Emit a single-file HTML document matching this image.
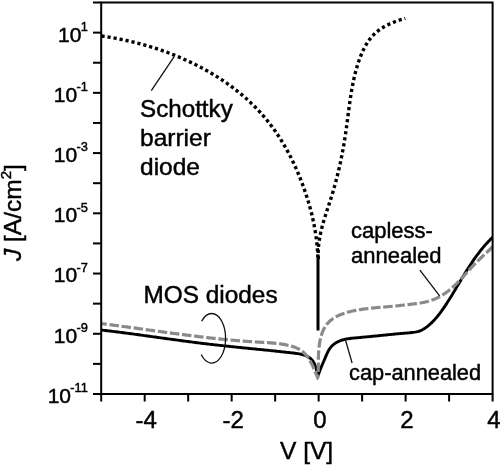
<!DOCTYPE html>
<html><head><meta charset="utf-8"><style>
html,body{margin:0;padding:0;background:#fff;}
svg{display:block;}
</style></head><body>
<svg width="500" height="466" viewBox="0 0 500 466">
<rect x="0" y="0" width="500" height="466" fill="#fff"/>
<defs><clipPath id="c"><rect x="101.2" y="2.5" width="391.4" height="391.5"/></clipPath></defs>
<g clip-path="url(#c)" fill="none">
<path d="M101.02,330.01 L102.52,330.18 L104.01,330.35 L105.51,330.52 L107.00,330.70 L108.50,330.88 L109.99,331.06 L111.49,331.24 L112.99,331.42 L114.48,331.60 L115.98,331.79 L117.48,331.98 L118.98,332.17 L120.48,332.36 L121.97,332.55 L123.47,332.75 L124.97,332.94 L126.47,333.14 L127.97,333.33 L129.47,333.53 L130.97,333.73 L132.47,333.93 L133.97,334.13 L135.47,334.34 L136.97,334.54 L138.47,334.74 L139.98,334.95 L141.48,335.16 L142.98,335.36 L144.48,335.57 L145.98,335.78 L147.48,335.98 L148.98,336.19 L150.49,336.40 L151.99,336.61 L153.49,336.82 L154.99,337.03 L156.49,337.24 L158.00,337.44 L159.50,337.65 L161.00,337.86 L162.50,338.07 L164.00,338.28 L165.51,338.49 L167.01,338.70 L168.51,338.90 L170.01,339.11 L171.51,339.32 L173.01,339.52 L174.52,339.73 L176.02,339.93 L177.52,340.14 L179.02,340.34 L180.52,340.54 L182.02,340.74 L183.52,340.95 L185.02,341.14 L186.52,341.34 L188.02,341.54 L189.52,341.74 L191.02,341.93 L192.52,342.12 L194.02,342.32 L195.52,342.51 L197.02,342.70 L198.52,342.88 L200.02,343.07 L201.52,343.26 L203.01,343.44 L204.51,343.62 L206.01,343.80 L207.51,343.97 L209.00,344.15 L210.50,344.32 L211.99,344.50 L213.49,344.67 L214.99,344.84 L216.48,345.00 L217.98,345.17 L219.47,345.33 L220.97,345.50 L222.47,345.66 L223.96,345.82 L225.46,345.98 L226.95,346.14 L228.45,346.30 L229.94,346.46 L231.44,346.61 L232.94,346.77 L234.43,346.92 L235.93,347.08 L237.43,347.23 L238.93,347.38 L240.42,347.54 L241.92,347.69 L243.42,347.84 L244.92,347.99 L246.42,348.14 L247.92,348.29 L249.42,348.44 L250.92,348.59 L252.43,348.75 L253.93,348.90 L255.43,349.05 L256.94,349.20 L258.44,349.35 L259.95,349.50 L261.45,349.65 L262.96,349.81 L264.47,349.96 L265.98,350.11 L267.49,350.27 L269.00,350.42 L270.51,350.58 L272.02,350.74 L273.54,350.89 L275.05,351.05 L276.57,351.21 L278.09,351.37 L279.61,351.53 L281.12,351.69 L282.65,351.86 L284.17,352.02 L285.69,352.19 L287.22,352.36 L288.74,352.53 L290.27,352.70 L291.80,352.87 L293.33,353.05 L294.85,353.23 L296.37,353.44 L297.88,353.67 L299.37,353.93 L300.84,354.24 L302.29,354.59 L303.71,355.00 L305.10,355.48 L306.45,356.03 L307.75,356.65 L308.99,357.37 L310.16,358.19 L311.24,359.12 L312.21,360.17 L313.07,361.34 L313.83,362.62 L314.50,363.99 L315.08,365.43 L315.60,366.93 L316.06,368.45 L316.47,369.98 L316.85,371.51 L317.21,373.01 L317.57,374.47 L317.92,375.86 L318.00,375.81 L318.50,374.35 L319.01,372.91 L319.54,371.48 L320.08,370.08 L320.63,368.68 L321.19,367.29 L321.76,365.91 L322.34,364.54 L322.93,363.16 L323.52,361.78 L324.12,360.40 L324.71,359.01 L325.31,357.60 L325.91,356.18 L326.52,354.76 L327.14,353.35 L327.81,351.95 L328.52,350.59 L329.29,349.29 L330.13,348.04 L331.07,346.88 L332.09,345.79 L333.19,344.79 L334.36,343.87 L335.60,343.03 L336.89,342.27 L338.23,341.59 L339.61,340.98 L341.01,340.44 L342.44,339.98 L343.89,339.58 L345.35,339.23 L346.83,338.94 L348.33,338.69 L349.83,338.48 L351.34,338.29 L352.86,338.13 L354.38,337.99 L355.91,337.85 L357.43,337.72 L358.95,337.58 L360.46,337.45 L361.98,337.31 L363.49,337.17 L365.00,337.02 L366.51,336.88 L368.02,336.73 L369.52,336.59 L371.03,336.44 L372.53,336.29 L374.03,336.14 L375.53,335.99 L377.03,335.84 L378.53,335.69 L380.03,335.54 L381.53,335.39 L383.02,335.24 L384.52,335.09 L386.02,334.94 L387.52,334.79 L389.02,334.64 L390.52,334.50 L392.02,334.35 L393.53,334.21 L395.03,334.06 L396.53,333.92 L398.04,333.78 L399.55,333.65 L401.06,333.51 L402.57,333.38 L404.09,333.25 L405.61,333.11 L407.12,332.98 L408.64,332.84 L410.16,332.69 L411.69,332.53 L413.21,332.36 L414.73,332.17 L416.24,331.93 L417.72,331.63 L419.16,331.23 L420.56,330.70 L421.90,330.07 L423.20,329.35 L424.47,328.55 L425.70,327.70 L426.90,326.81 L428.08,325.89 L429.23,324.92 L430.35,323.93 L431.45,322.90 L432.52,321.85 L433.57,320.76 L434.60,319.66 L435.61,318.52 L436.60,317.37 L437.57,316.20 L438.52,315.01 L439.46,313.81 L440.38,312.59 L441.29,311.36 L442.18,310.12 L443.05,308.87 L443.92,307.62 L444.78,306.36 L445.62,305.10 L446.46,303.83 L447.28,302.56 L448.10,301.29 L448.91,300.01 L449.71,298.73 L450.51,297.45 L451.30,296.16 L452.08,294.88 L452.87,293.59 L453.64,292.30 L454.42,291.01 L455.19,289.71 L455.96,288.42 L456.72,287.12 L457.49,285.83 L458.26,284.53 L459.03,283.23 L459.79,281.93 L460.57,280.63 L461.34,279.34 L462.12,278.04 L462.90,276.74 L463.68,275.45 L464.47,274.16 L465.26,272.87 L466.06,271.58 L466.86,270.30 L467.66,269.01 L468.48,267.74 L469.30,266.46 L470.12,265.19 L470.96,263.93 L471.80,262.67 L472.64,261.41 L473.50,260.17 L474.37,258.93 L475.24,257.69 L476.12,256.46 L477.01,255.24 L477.92,254.03 L478.83,252.82 L479.75,251.63 L480.69,250.44 L481.63,249.26 L482.59,248.10 L483.56,246.94 L484.54,245.79 L485.54,244.65 L486.55,243.53 L487.57,242.41 L488.61,241.31 L489.66,240.22 L490.72,239.14 L491.80,238.08 L492.90,237.03 L494.01,235.99" stroke="#000" stroke-width="2.9" stroke-linejoin="round"/>
<path d="M100.93,323.52 L102.44,323.72 L103.95,323.91 L105.46,324.10 L106.98,324.30 L108.49,324.49 L110.00,324.69 L111.51,324.89 L113.01,325.09 L114.52,325.29 L116.03,325.49 L117.54,325.69 L119.04,325.89 L120.55,326.09 L122.06,326.30 L123.56,326.50 L125.07,326.71 L126.57,326.91 L128.07,327.12 L129.58,327.32 L131.08,327.53 L132.58,327.74 L134.09,327.94 L135.59,328.15 L137.09,328.36 L138.59,328.57 L140.09,328.77 L141.59,328.98 L143.09,329.19 L144.59,329.40 L146.09,329.61 L147.59,329.81 L149.09,330.02 L150.59,330.23 L152.09,330.44 L153.59,330.65 L155.09,330.85 L156.59,331.06 L158.09,331.27 L159.59,331.47 L161.08,331.68 L162.58,331.89 L164.08,332.09 L165.58,332.29 L167.08,332.50 L168.58,332.70 L170.08,332.90 L171.57,333.11 L173.07,333.31 L174.57,333.51 L176.07,333.71 L177.57,333.91 L179.07,334.10 L180.57,334.30 L182.07,334.50 L183.56,334.69 L185.06,334.88 L186.56,335.08 L188.06,335.27 L189.56,335.46 L191.06,335.65 L192.56,335.83 L194.07,336.02 L195.57,336.21 L197.07,336.39 L198.57,336.57 L200.07,336.75 L201.57,336.93 L203.08,337.11 L204.58,337.28 L206.08,337.46 L207.59,337.63 L209.09,337.80 L210.60,337.97 L212.10,338.14 L213.61,338.30 L215.11,338.46 L216.62,338.63 L218.13,338.79 L219.64,338.94 L221.15,339.10 L222.65,339.25 L224.16,339.40 L225.67,339.55 L227.19,339.70 L228.70,339.84 L230.21,339.98 L231.72,340.12 L233.24,340.26 L234.75,340.39 L236.26,340.53 L237.78,340.66 L239.30,340.78 L240.81,340.91 L242.33,341.03 L243.85,341.15 L245.37,341.26 L246.89,341.38 L248.41,341.49 L249.93,341.60 L251.46,341.70 L252.98,341.80 L254.51,341.90 L256.03,342.00 L257.56,342.09 L259.09,342.18 L260.62,342.27 L262.14,342.35 L263.67,342.44 L265.20,342.52 L266.73,342.62 L268.26,342.71 L269.78,342.81 L271.30,342.92 L272.82,343.05 L274.34,343.18 L275.85,343.33 L277.36,343.49 L278.86,343.67 L280.36,343.87 L281.85,344.09 L283.34,344.34 L284.82,344.60 L286.29,344.90 L287.75,345.22 L289.21,345.57 L290.66,345.95 L292.09,346.37 L293.50,346.83 L294.90,347.33 L296.26,347.88 L297.60,348.49 L298.89,349.15 L300.15,349.88 L301.36,350.68 L302.52,351.55 L303.62,352.50 L304.67,353.51 L305.67,354.59 L306.63,355.74 L307.54,356.93 L308.41,358.17 L309.24,359.46 L310.03,360.78 L310.79,362.14 L311.51,363.52 L312.21,364.92 L312.89,366.34 L313.53,367.77 L314.16,369.20 L314.77,370.63 L315.37,372.06 L315.95,373.47 L316.52,374.87 L317.08,376.24 L317.64,377.58 L317.77,377.44 L317.90,375.95 L318.00,374.46 L318.09,372.97 L318.15,371.47 L318.20,369.98 L318.24,368.48 L318.28,366.98 L318.30,365.49 L318.32,363.99 L318.34,362.48 L318.36,360.98 L318.38,359.48 L318.41,357.97 L318.45,356.46 L318.50,354.95 L318.57,353.44 L318.65,351.92 L318.75,350.40 L318.87,348.88 L319.02,347.35 L319.19,345.83 L319.40,344.29 L319.64,342.76 L319.91,341.22 L320.22,339.69 L320.56,338.17 L320.95,336.66 L321.39,335.17 L321.87,333.70 L322.39,332.26 L322.97,330.85 L323.60,329.48 L324.28,328.15 L325.02,326.87 L325.82,325.63 L326.68,324.46 L327.60,323.34 L328.59,322.29 L329.62,321.29 L330.71,320.34 L331.85,319.44 L333.04,318.60 L334.27,317.80 L335.54,317.05 L336.85,316.35 L338.19,315.68 L339.56,315.06 L340.96,314.48 L342.39,313.93 L343.83,313.42 L345.30,312.94 L346.78,312.49 L348.28,312.08 L349.78,311.69 L351.29,311.32 L352.80,310.98 L354.31,310.66 L355.82,310.36 L357.33,310.08 L358.84,309.81 L360.34,309.57 L361.84,309.33 L363.34,309.12 L364.84,308.91 L366.34,308.72 L367.83,308.54 L369.33,308.37 L370.82,308.21 L372.32,308.06 L373.81,307.92 L375.30,307.78 L376.80,307.64 L378.29,307.51 L379.78,307.39 L381.28,307.26 L382.77,307.13 L384.27,307.01 L385.76,306.88 L387.26,306.75 L388.76,306.62 L390.26,306.48 L391.76,306.34 L393.26,306.19 L394.77,306.04 L396.27,305.89 L397.78,305.73 L399.28,305.57 L400.79,305.41 L402.30,305.24 L403.81,305.07 L405.32,304.90 L406.83,304.73 L408.34,304.55 L409.86,304.37 L411.37,304.19 L412.88,304.01 L414.40,303.82 L415.91,303.63 L417.42,303.42 L418.93,303.21 L420.43,302.98 L421.92,302.72 L423.41,302.45 L424.89,302.15 L426.36,301.81 L427.82,301.45 L429.26,301.04 L430.69,300.60 L432.11,300.11 L433.51,299.58 L434.90,299.01 L436.26,298.40 L437.62,297.74 L438.95,297.06 L440.27,296.33 L441.57,295.57 L442.85,294.78 L444.12,293.96 L445.36,293.11 L446.59,292.23 L447.80,291.33 L448.99,290.40 L450.16,289.45 L451.31,288.47 L452.44,287.48 L453.56,286.46 L454.67,285.43 L455.76,284.38 L456.84,283.32 L457.90,282.24 L458.96,281.15 L460.01,280.06 L461.05,278.95 L462.08,277.83 L463.11,276.71 L464.13,275.59 L465.16,274.46 L466.17,273.33 L467.19,272.20 L468.21,271.07 L469.23,269.95 L470.25,268.82 L471.28,267.71 L472.31,266.60 L473.35,265.50 L474.39,264.40 L475.44,263.32 L476.50,262.25 L477.57,261.18 L478.64,260.12 L479.71,259.07 L480.79,258.02 L481.87,256.98 L482.96,255.94 L484.06,254.90 L485.15,253.87 L486.25,252.84 L487.35,251.80 L488.46,250.77 L489.56,249.74 L490.67,248.70 L491.78,247.67 L492.88,246.63 L493.99,245.58" stroke="#8a8a8a" stroke-width="3.2" stroke-dasharray="9.5 2.7" stroke-dashoffset="3.6"/>
<path d="M101.48,35.99 L102.96,36.21 L104.43,36.42 L105.90,36.65 L107.38,36.88 L108.85,37.12 L110.33,37.37 L111.80,37.62 L113.28,37.88 L114.75,38.15 L116.23,38.42 L117.71,38.70 L119.18,38.99 L120.66,39.29 L122.14,39.59 L123.61,39.90 L125.09,40.21 L126.56,40.53 L128.03,40.86 L129.51,41.20 L130.98,41.54 L132.45,41.89 L133.92,42.25 L135.39,42.62 L136.86,42.99 L138.33,43.37 L139.80,43.75 L141.27,44.15 L142.73,44.55 L144.19,44.96 L145.65,45.37 L147.11,45.79 L148.57,46.22 L150.03,46.66 L151.49,47.10 L152.94,47.55 L154.39,48.01 L155.84,48.48 L157.29,48.95 L158.73,49.43 L160.17,49.92 L161.61,50.41 L163.05,50.91 L164.49,51.42 L165.92,51.94 L167.35,52.46 L168.78,52.99 L170.20,53.53 L171.62,54.08 L173.04,54.63 L174.46,55.19 L175.87,55.76 L177.28,56.34 L178.69,56.92 L180.09,57.51 L181.49,58.11 L182.88,58.71 L184.28,59.33 L185.66,59.95 L187.05,60.58 L188.43,61.21 L189.81,61.85 L191.18,62.50 L192.55,63.16 L193.91,63.83 L195.27,64.50 L196.63,65.18 L197.98,65.87 L199.33,66.57 L200.67,67.27 L202.01,67.98 L203.34,68.70 L204.67,69.43 L206.00,70.16 L207.32,70.91 L208.63,71.66 L209.94,72.41 L211.24,73.18 L212.54,73.95 L213.83,74.73 L215.12,75.52 L216.40,76.32 L217.68,77.12 L218.95,77.94 L220.22,78.76 L221.48,79.59 L222.73,80.42 L223.98,81.26 L225.22,82.12 L226.45,82.98 L227.68,83.84 L228.91,84.72 L230.12,85.60 L231.33,86.49 L232.54,87.39 L233.73,88.30 L234.92,89.21 L236.11,90.14 L237.28,91.07 L238.45,92.01 L239.62,92.95 L240.77,93.91 L241.92,94.87 L243.06,95.84 L244.20,96.82 L245.32,97.81 L246.44,98.80 L247.55,99.81 L248.66,100.82 L249.75,101.84 L250.84,102.87 L251.92,103.90 L253.00,104.95 L254.06,106.00 L255.12,107.06 L256.17,108.13 L257.21,109.21 L258.24,110.29 L259.26,111.39 L260.28,112.49 L261.28,113.60 L262.28,114.72 L263.27,115.84 L264.25,116.98 L265.22,118.12 L266.19,119.27 L267.14,120.43 L268.08,121.60 L269.02,122.78 L269.95,123.96 L270.86,125.16 L271.77,126.36 L272.67,127.57 L273.56,128.79 L274.43,130.01 L275.30,131.25 L276.17,132.49 L277.02,133.74 L277.86,134.99 L278.69,136.26 L279.52,137.53 L280.33,138.81 L281.14,140.09 L281.93,141.38 L282.72,142.68 L283.50,143.98 L284.27,145.29 L285.03,146.61 L285.78,147.93 L286.53,149.26 L287.26,150.59 L287.99,151.93 L288.71,153.28 L289.42,154.63 L290.12,155.98 L290.81,157.34 L291.49,158.71 L292.16,160.08 L292.83,161.45 L293.49,162.83 L294.14,164.21 L294.78,165.60 L295.41,166.99 L296.03,168.39 L296.65,169.78 L297.26,171.19 L297.86,172.59 L298.45,174.00 L299.03,175.41 L299.61,176.83 L300.17,178.24 L300.73,179.66 L301.28,181.09 L301.83,182.51 L302.36,183.94 L302.89,185.37 L303.41,186.80 L303.92,188.23 L304.42,189.66 L304.92,191.10 L305.41,192.54 L305.89,193.98 L306.36,195.42 L306.82,196.86 L307.28,198.30 L307.73,199.75 L308.17,201.19 L308.60,202.64 L309.02,204.09 L309.44,205.54 L309.84,206.99 L310.24,208.45 L310.63,209.90 L311.01,211.36 L311.38,212.82 L311.74,214.28 L312.09,215.74 L312.43,217.20 L312.77,218.67 L313.09,220.14 L313.41,221.61 L313.71,223.08 L314.01,224.55 L314.29,226.02 L314.57,227.50 L314.83,228.97 L315.09,230.45 L315.33,231.93 L315.57,233.42 L315.79,234.90 L316.01,236.39 L316.21,237.87 L316.41,239.36 L316.59,240.86 L316.76,242.35 L316.92,243.84 L317.08,245.34 L317.21,246.84 L317.34,248.34 L317.46,249.84 L317.57,251.35 L317.66,252.85 L317.75,254.36 L317.82,255.87 L317.88,257.38 L317.93,258.90" stroke="#000" stroke-width="3.4" stroke-dasharray="3.2 2.9"/>
<path d="M318.31,259.05 L318.23,257.50 L318.18,255.97 L318.16,254.44 L318.17,252.91 L318.20,251.39 L318.27,249.87 L318.36,248.36 L318.47,246.86 L318.61,245.35 L318.78,243.86 L318.96,242.36 L319.17,240.87 L319.40,239.39 L319.65,237.91 L319.93,236.43 L320.21,234.95 L320.52,233.48 L320.84,232.01 L321.18,230.55 L321.54,229.09 L321.90,227.63 L322.28,226.17 L322.68,224.71 L323.08,223.26 L323.50,221.81 L323.92,220.36 L324.36,218.91 L324.80,217.46 L325.25,216.02 L325.70,214.57 L326.16,213.13 L326.62,211.69 L327.09,210.24 L327.56,208.80 L328.03,207.36 L328.50,205.92 L328.97,204.48 L329.44,203.04 L329.91,201.59 L330.38,200.15 L330.84,198.71 L331.29,197.27 L331.75,195.82 L332.19,194.38 L332.63,192.93 L333.06,191.48 L333.49,190.03 L333.91,188.58 L334.32,187.13 L334.73,185.68 L335.13,184.22 L335.52,182.77 L335.91,181.31 L336.29,179.85 L336.67,178.39 L337.04,176.93 L337.41,175.47 L337.77,174.01 L338.12,172.55 L338.47,171.08 L338.81,169.62 L339.15,168.15 L339.48,166.68 L339.81,165.21 L340.13,163.74 L340.45,162.27 L340.76,160.79 L341.06,159.32 L341.36,157.84 L341.66,156.37 L341.95,154.89 L342.23,153.41 L342.51,151.93 L342.79,150.45 L343.06,148.96 L343.33,147.48 L343.59,145.99 L343.84,144.51 L344.10,143.02 L344.34,141.53 L344.59,140.04 L344.83,138.55 L345.06,137.06 L345.29,135.56 L345.52,134.07 L345.74,132.57 L345.95,131.07 L346.17,129.57 L346.38,128.07 L346.58,126.57 L346.79,125.07 L346.99,123.57 L347.18,122.06 L347.38,120.56 L347.58,119.05 L347.77,117.55 L347.97,116.04 L348.16,114.54 L348.36,113.03 L348.55,111.53 L348.75,110.02 L348.95,108.52 L349.15,107.01 L349.35,105.51 L349.56,104.00 L349.77,102.50 L349.98,101.00 L350.20,99.50 L350.42,98.00 L350.65,96.50 L350.89,95.00 L351.13,93.51 L351.37,92.01 L351.62,90.52 L351.89,89.03 L352.15,87.54 L352.43,86.05 L352.71,84.57 L353.01,83.09 L353.31,81.61 L353.62,80.13 L353.95,78.65 L354.28,77.18 L354.62,75.71 L354.98,74.24 L355.35,72.78 L355.73,71.32 L356.12,69.86 L356.53,68.40 L356.95,66.95 L357.38,65.51 L357.83,64.06 L358.29,62.62 L358.77,61.19 L359.27,59.76 L359.78,58.33 L360.31,56.92 L360.86,55.51 L361.43,54.12 L362.03,52.73 L362.64,51.36 L363.28,50.01 L363.94,48.67 L364.63,47.35 L365.34,46.04 L366.08,44.76 L366.85,43.49 L367.65,42.25 L368.48,41.03 L369.34,39.84 L370.23,38.67 L371.15,37.53 L372.11,36.42 L373.10,35.33 L374.13,34.28 L375.20,33.26 L376.30,32.27 L377.44,31.32 L378.62,30.40 L379.83,29.52 L381.07,28.67 L382.35,27.84 L383.65,27.05 L384.98,26.29 L386.33,25.56 L387.71,24.86 L389.10,24.18 L390.52,23.54 L391.95,22.91 L393.39,22.32 L394.85,21.75 L396.32,21.21 L397.80,20.68 L399.29,20.19 L400.78,19.71 L402.27,19.26 L403.77,18.83 L405.26,18.41" stroke="#000" stroke-width="3.4" stroke-dasharray="3.2 2.9"/>
<line x1="318" y1="259" x2="318" y2="330.6" stroke="#000" stroke-width="3"/>
</g>
<rect x="101.2" y="2.5" width="391.40000000000003" height="391.5" fill="none" stroke="#000" stroke-width="2"/>
<line x1="93" y1="2.50" x2="101.2" y2="2.50" stroke="#000" stroke-width="2"/>
<line x1="93" y1="32.62" x2="101.2" y2="32.62" stroke="#000" stroke-width="2"/>
<line x1="93" y1="62.73" x2="101.2" y2="62.73" stroke="#000" stroke-width="2"/>
<line x1="93" y1="92.85" x2="101.2" y2="92.85" stroke="#000" stroke-width="2"/>
<line x1="93" y1="122.96" x2="101.2" y2="122.96" stroke="#000" stroke-width="2"/>
<line x1="93" y1="153.08" x2="101.2" y2="153.08" stroke="#000" stroke-width="2"/>
<line x1="93" y1="183.19" x2="101.2" y2="183.19" stroke="#000" stroke-width="2"/>
<line x1="93" y1="213.31" x2="101.2" y2="213.31" stroke="#000" stroke-width="2"/>
<line x1="93" y1="243.42" x2="101.2" y2="243.42" stroke="#000" stroke-width="2"/>
<line x1="93" y1="273.54" x2="101.2" y2="273.54" stroke="#000" stroke-width="2"/>
<line x1="93" y1="303.65" x2="101.2" y2="303.65" stroke="#000" stroke-width="2"/>
<line x1="93" y1="333.77" x2="101.2" y2="333.77" stroke="#000" stroke-width="2"/>
<line x1="93" y1="363.88" x2="101.2" y2="363.88" stroke="#000" stroke-width="2"/>
<line x1="93" y1="394.00" x2="101.2" y2="394.00" stroke="#000" stroke-width="2"/>
<line x1="101.20" y1="394.0" x2="101.20" y2="401.5" stroke="#000" stroke-width="2"/>
<line x1="144.69" y1="394.0" x2="144.69" y2="401.5" stroke="#000" stroke-width="2"/>
<line x1="188.18" y1="394.0" x2="188.18" y2="401.5" stroke="#000" stroke-width="2"/>
<line x1="231.67" y1="394.0" x2="231.67" y2="401.5" stroke="#000" stroke-width="2"/>
<line x1="275.16" y1="394.0" x2="275.16" y2="401.5" stroke="#000" stroke-width="2"/>
<line x1="318.64" y1="394.0" x2="318.64" y2="401.5" stroke="#000" stroke-width="2"/>
<line x1="362.13" y1="394.0" x2="362.13" y2="401.5" stroke="#000" stroke-width="2"/>
<line x1="405.62" y1="394.0" x2="405.62" y2="401.5" stroke="#000" stroke-width="2"/>
<line x1="449.11" y1="394.0" x2="449.11" y2="401.5" stroke="#000" stroke-width="2"/>
<line x1="492.60" y1="394.0" x2="492.60" y2="401.5" stroke="#000" stroke-width="2"/>
<g font-family="'Liberation Sans', Arial, Helvetica, sans-serif" fill="#000" stroke="#000" stroke-width="0.45">
<text x="87.8" y="41.52" text-anchor="end" font-size="21">10<tspan dy="-10.5" dx="-0.8" font-size="12.8">1</tspan></text>
<text x="87.8" y="101.75" text-anchor="end" font-size="21">10<tspan dy="-10.5" dx="-0.8" font-size="12.8">-1</tspan></text>
<text x="87.8" y="161.98" text-anchor="end" font-size="21">10<tspan dy="-10.5" dx="-0.8" font-size="12.8">-3</tspan></text>
<text x="87.8" y="222.21" text-anchor="end" font-size="21">10<tspan dy="-10.5" dx="-0.8" font-size="12.8">-5</tspan></text>
<text x="87.8" y="282.44" text-anchor="end" font-size="21">10<tspan dy="-10.5" dx="-0.8" font-size="12.8">-7</tspan></text>
<text x="87.8" y="342.67" text-anchor="end" font-size="21">10<tspan dy="-10.5" dx="-0.8" font-size="12.8">-9</tspan></text>
<text x="87.8" y="402.90" text-anchor="end" font-size="21">10<tspan dy="-10.5" dx="-0.8" font-size="12.8">-11</tspan></text>
<text x="146.09" y="427.6" text-anchor="middle" font-size="24">-4</text>
<text x="233.07" y="427.6" text-anchor="middle" font-size="24">-2</text>
<text x="320.04" y="427.6" text-anchor="middle" font-size="24">0</text>
<text x="407.02" y="427.6" text-anchor="middle" font-size="24">2</text>
<text x="494.00" y="427.6" text-anchor="middle" font-size="24">4</text>
<text x="140" y="116.8" font-size="24.2">Schottky</text>
<text x="140" y="145.5" font-size="24.5">barrier</text>
<text x="140" y="174.5" font-size="24.5">diode</text>
<text x="143.4" y="303.3" font-size="24.4">MOS diodes</text>
<text x="351" y="237.5" font-size="22">capless-</text>
<text x="351" y="263.3" font-size="22">annealed</text>
<text x="349" y="379.7" font-size="21.8">cap-annealed</text>
<text x="280" y="459" font-size="24.5">V [V]</text>
<text transform="translate(20.6,261) rotate(-90)" font-size="24.5"><tspan font-style="italic">J</tspan> [A/cm<tspan dy="-9.5" font-size="15">2</tspan><tspan dy="9.5">]</tspan></text>
</g>
<g fill="none" stroke="#111" stroke-width="1.3">
<line x1="174" y1="56.8" x2="151.3" y2="90.6"/>
<line x1="419.9" y1="270.2" x2="439.6" y2="295.9"/>
<line x1="345.7" y1="340.7" x2="352.1" y2="363"/>
<path d="M201.70,321.07 A13.9,24.8 0 1 1 201.21,354.57"/>
</g>
</svg>
</body></html>
